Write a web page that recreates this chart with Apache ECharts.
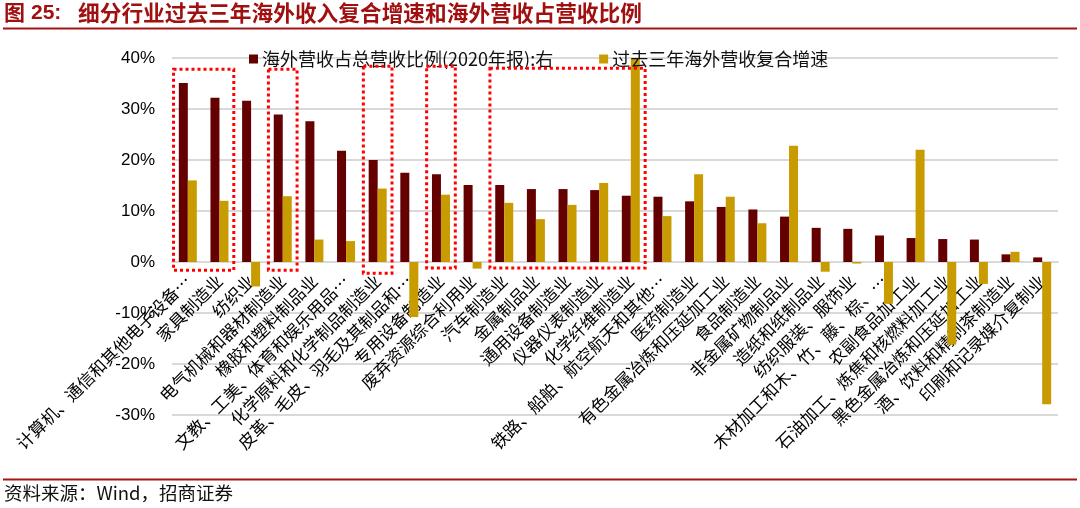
<!DOCTYPE html>
<html>
<head>
<meta charset="utf-8">
<script src="https://cdn.jsdelivr.net/npm/echarts@6/dist/echarts.min.js"></script>
<style>
html,body{margin:0;padding:0;background:#fff;}
#c{width:1080px;height:508px;}
</style>
</head>
<body>
<div id="c"></div>
<script>
const categories = [
  '计算机、通信和其他电子设备…', '家具制造业', '纺织业', '电气机械和器材制造业', '橡胶和塑料制品业',
  '文教、工美、体育和娱乐用品…', '化学原料和化学制品制造业', '皮革、毛皮、羽毛及其制品和…', '专用设备制造业', '废弃资源综合利用业',
  '汽车制造业', '金属制品业', '通用设备制造业', '仪器仪表制造业', '化学纤维制造业',
  '铁路、船舶、航空航天和其他…', '医药制造业', '有色金属冶炼和压延加工业', '食品制造业', '非金属矿物制品业',
  '造纸和纸制品业', '纺织服装、服饰业', '木材加工和木、竹、藤、棕、…', '农副食品加工业', '石油加工、炼焦和核燃料加工业',
  '黑色金属冶炼和压延加工业', '酒、饮料和精制茶制造业', '印刷和记录媒介复制业'
];
const shareName = '海外营收占总营收比例(2020年报):右';
const growthName = '过去三年海外营收复合增速';
// overseas revenue share (%)
const shareValues = [35.1, 32.2, 31.6, 28.9, 27.6, 21.8, 20.0, 17.5, 17.2, 15.1,
  15.1, 14.3, 14.3, 14.1, 13.0, 12.8, 11.9, 10.8, 10.3, 8.9,
  6.7, 6.5, 5.2, 4.7, 4.5, 4.4, 1.5, 0.9];
// 3-year CAGR of overseas revenue (%)
const growthValues = [16.0, 12.0, -4.8, 12.9, 4.4, 4.1, 14.4, -10.8, 13.2, -1.3,
  11.6, 8.4, 11.2, 15.5, 39.8, 9.0, 17.2, 12.8, 7.6, 22.8,
  -1.9, -0.3, -8.2, 22.0, -16.2, -4.3, 2.0, -27.9];
const yMin = -30, yMax = 40, yStep = 10;
// highlighted category groups: [firstIndex, lastIndex, topValue, bottomValue]
const highlightGroups = [
  [0, 1, 37.8, -1.6],
  [3, 3, 37.8, -1.6],
  [6, 6, 38.4, -2.2],
  [8, 8, 38.4, -1.2],
  [10, 14, 38.0, -1.2]
];
const titleText = '细分行业过去三年海外收入复合增速和海外营收占营收比例';
const sourceText = '资料来源：Wind，招商证券';

const CJK = '"Noto Sans CJK SC", "Noto Sans", sans-serif';
const LAT = '"Liberation Sans", Arial, sans-serif';
const DARK = '#650000';
const GOLD = '#C89B00';
const LINE_RED = '#A31515';

const chart = echarts.init(document.getElementById('c'), null, {renderer: 'canvas'});

const baseGraphics = [
  {type: 'text', left: 4, top: 2, style: {text: '图', fill: '#A01010', font: 'bold 21px ' + CJK}},
  {type: 'text', left: 31, top: 3, style: {text: '25:', fill: '#A01010', font: 'bold 21px ' + LAT}},
  {type: 'text', left: 78, top: 2, style: {text: titleText, fill: '#A01010', font: 'bold 21.7px ' + CJK}},
  {type: 'line', shape: {x1: 3, y1: 28.5, x2: 1077, y2: 28.5}, style: {stroke: LINE_RED, lineWidth: 2}},
  {type: 'line', shape: {x1: 3, y1: 479.5, x2: 1077, y2: 479.5}, style: {stroke: LINE_RED, lineWidth: 2}},
  {type: 'text', left: 4, top: 484, style: {text: sourceText, fill: '#111', font: '18.5px ' + CJK}}
];

const option = {
  animation: false,
  backgroundColor: '#fff',
  grid: {left: 172, right: 22, top: 58, bottom: 93, containLabel: false, outerBoundsMode: 'none'},
  legend: {
    left: 244, top: 45,
    itemWidth: 9, itemHeight: 9, itemGap: 46,
    icon: 'rect',
    textStyle: {fontFamily: CJK, fontSize: 18, color: '#111', padding: [0, 0, 0, -1]},
    data: [shareName, growthName]
  },
  xAxis: {
    type: 'category',
    data: categories,
    axisLine: {onZero: false, lineStyle: {color: '#D9D9D9', width: 2}},
    axisTick: {show: false},
    axisLabel: {interval: 0, rotate: 45, margin: 16, fontFamily: CJK, fontSize: 17, color: '#000'}
  },
  yAxis: {
    type: 'value',
    min: yMin, max: yMax, interval: yStep,
    axisLine: {show: false},
    axisTick: {show: false},
    axisLabel: {formatter: '{value}%', fontFamily: LAT, fontSize: 17, color: '#000', margin: 17},
    splitLine: {lineStyle: {color: '#D9D9D9', width: 2}}
  },
  series: [
    {name: shareName, type: 'bar', data: shareValues, barWidth: 9, barGap: '0%',
     itemStyle: {color: DARK}},
    {name: growthName, type: 'bar', data: growthValues, barWidth: 9, barGap: '0%',
     itemStyle: {color: GOLD}}
  ],
  graphic: baseGraphics
};
chart.setOption(option);

// move the category axis (line + labels) up onto the value-axis zero line
const zeroPx = chart.convertToPixel({gridIndex: 0}, [0, 0])[1];
const minPx = chart.convertToPixel({gridIndex: 0}, [0, yMin])[1];
chart.setOption({xAxis: {offset: -(minPx - zeroPx)}});

// dotted highlight boxes positioned from the axis scales
const c0 = chart.convertToPixel({gridIndex: 0}, [0, 0]);
const c1 = chart.convertToPixel({gridIndex: 0}, [1, 0]);
const half = (c1[0] - c0[0]) / 2;
const boxes = highlightGroups.map(function (g) {
  const a = chart.convertToPixel({gridIndex: 0}, [g[0], g[2]]);
  const b = chart.convertToPixel({gridIndex: 0}, [g[1], g[3]]);
  const x1 = a[0] - half + 1.5, x2 = b[0] + half - 1.5;
  return {
    type: 'rect', z: 100,
    shape: {x: x1, y: a[1], width: x2 - x1, height: b[1] - a[1]},
    style: {fill: 'none', stroke: '#FF0000', lineWidth: 3, lineDash: [3, 3]}
  };
});
chart.setOption({graphic: baseGraphics.concat(boxes)});
</script>
</body>
</html>
